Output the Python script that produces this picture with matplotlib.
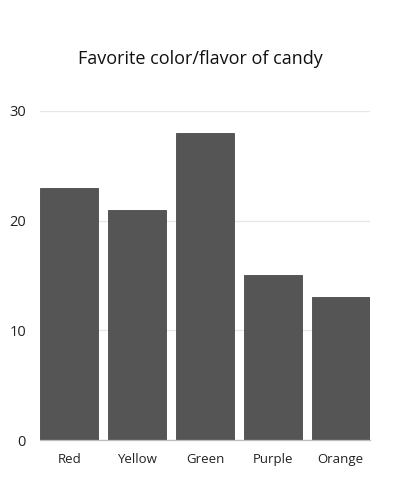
import matplotlib.pyplot as plt

categories = ["Red", "Yellow", "Green", "Purple", "Orange"]
votes = [23, 21, 28, 15, 13]
y_ticks = [0, 10, 20, 30]


def main():
    plt.rcParams['font.family'] = ['Open Sans', 'DejaVu Sans']
    fig = plt.figure(figsize=(4, 4.84), dpi=100)
    ax = fig.add_axes([0.1, 0.0909, 0.825, 0.6798])

    x = range(len(categories))
    ax.bar(x, votes, width=0.86, color="#555555", edgecolor="#4a4a4a",
           linewidth=0.6, zorder=3)

    ax.set_xlim(-0.43, len(categories) - 1 + 0.43)
    ax.set_ylim(0, 30)
    ax.set_yticks(y_ticks)
    ax.set_xticks(list(x))
    ax.set_xticklabels(categories)

    ax.grid(axis="y", color="#e6e6e6", linewidth=0.9, zorder=0)
    for side in ["top", "right", "left"]:
        ax.spines[side].set_visible(False)
    ax.spines["bottom"].set_color("#bdbdbd")
    ax.spines["bottom"].set_linewidth(0.9)
    ax.spines["bottom"].set_zorder(4)
    ax.tick_params(axis="both", length=0, colors="#222222")
    ax.tick_params(axis="x", pad=9, labelsize=9.5)
    ax.tick_params(axis="y", pad=10, labelsize=10.5)

    fig.text(0.5, 0.879, "Favorite color/flavor of candy", ha="center",
             va="center", fontsize=13, color="#111111")

    fig.savefig("out.png", dpi=100)


if __name__ == "__main__":
    main()
